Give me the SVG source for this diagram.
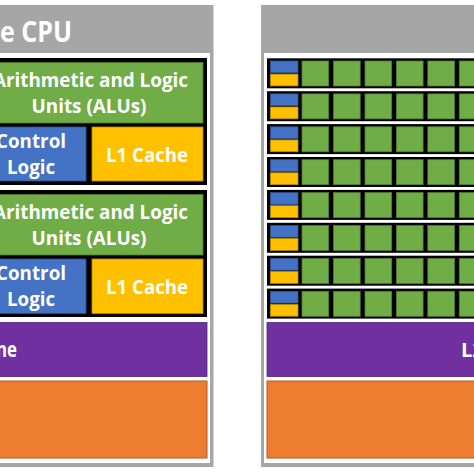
<svg xmlns="http://www.w3.org/2000/svg" xmlns:xlink="http://www.w3.org/1999/xlink" width="474" height="474" viewBox="0 0 474 474">
<style>
.frame{fill:#A6A6A6}
.inner{fill:#FFFFFF}
.core{fill:#000000}
.alu{fill:#70AD47;stroke:#507E32;stroke-width:0.8}
.ctl{fill:#4472C4;stroke:#2F528F;stroke-width:0.8}
.l1{fill:#FFC000;stroke:#BC8C00;stroke-width:0.8}
.l2{fill:#7030A0;stroke:#52237A;stroke-width:0.8}
.dram{fill:#ED7D31;stroke:#AE5A21;stroke-width:1}
.t{font-family:"Open Sans","Noto Sans",sans-serif;font-weight:bold;fill:#FFFFFF}
.lbl{font-size:20px}
.title{font-size:28px}
</style>
<defs>
<g id="gpurow">
<rect class="core" x="267" y="0" width="250" height="30"/>
<rect class="ctl" x="270.5" y="2.7" width="27.5" height="11.8"/>
<rect class="l1" x="270.5" y="15.8" width="27.5" height="11.8"/>
<rect class="alu" x="302" y="2.7" width="26.7" height="25"/>
<rect class="alu" x="333.5" y="2.7" width="26.7" height="25"/>
<rect class="alu" x="365" y="2.7" width="26.7" height="25"/>
<rect class="alu" x="396.4" y="2.7" width="26.7" height="25"/>
<rect class="alu" x="427.8" y="2.7" width="26.7" height="25"/>
<rect class="alu" x="459.3" y="2.7" width="26.7" height="25"/>
</g>
</defs>

<rect x="0" y="0" width="474" height="474" fill="#FFFFFF"/>

<g id="cpu">
<g id="cpu-frame">
<rect class="frame" x="-40" y="5" width="253.5" height="462"/>
<rect class="inner" x="-40" y="53" width="250" height="410"/>
<text class="t title" x="0" y="42" textLength="72" lengthAdjust="spacingAndGlyphs">e CPU</text>
</g>
<g id="cpu-core-1">
<rect class="core" x="-40" y="58" width="247" height="127"/>
<g id="cpu-core-1-alu">
<rect class="alu" x="-40" y="62.5" width="243" height="60.5"/>
<text class="t lbl" x="-7" y="87" textLength="195" lengthAdjust="spacingAndGlyphs">Arithmetic and Logic</text>
<text class="t lbl" x="31.5" y="113" textLength="115" lengthAdjust="spacingAndGlyphs">Units (ALUs)</text>
</g>
<g id="cpu-core-1-control">
<rect class="ctl" x="-40" y="127" width="126" height="54"/>
<text class="t lbl" x="-4" y="148" textLength="70" lengthAdjust="spacingAndGlyphs">Control</text>
<text class="t lbl" x="7" y="174" textLength="48" lengthAdjust="spacingAndGlyphs">Logic</text>
</g>
<g id="cpu-core-1-l1">
<rect class="l1" x="92" y="127" width="111" height="54"/>
<text class="t lbl" x="106" y="162" textLength="82" lengthAdjust="spacingAndGlyphs">L1 Cache</text>
</g>
</g>
<g id="cpu-core-2">
<rect class="core" x="-40" y="190" width="247" height="127"/>
<g id="cpu-core-2-alu">
<rect class="alu" x="-40" y="194.5" width="243" height="60.5"/>
<text class="t lbl" x="-7" y="219" textLength="195" lengthAdjust="spacingAndGlyphs">Arithmetic and Logic</text>
<text class="t lbl" x="31.5" y="245" textLength="115" lengthAdjust="spacingAndGlyphs">Units (ALUs)</text>
</g>
<g id="cpu-core-2-control">
<rect class="ctl" x="-40" y="259" width="126" height="54.5"/>
<text class="t lbl" x="-4" y="280" textLength="70" lengthAdjust="spacingAndGlyphs">Control</text>
<text class="t lbl" x="7" y="306" textLength="48" lengthAdjust="spacingAndGlyphs">Logic</text>
</g>
<g id="cpu-core-2-l1">
<rect class="l1" x="92" y="259" width="111" height="54.5"/>
<text class="t lbl" x="106" y="294" textLength="82" lengthAdjust="spacingAndGlyphs">L1 Cache</text>
</g>
</g>
<g id="cpu-cache">
<rect class="l2" x="-40" y="322.5" width="247" height="54"/>
<text class="t lbl" x="-4" y="357" textLength="21" lengthAdjust="spacingAndGlyphs" style="font-size:22px">ne</text>
</g>
<g id="cpu-dram">
<rect class="dram" x="-40" y="381" width="247" height="77"/>
</g>
</g>

<g id="gpu">
<g id="gpu-frame">
<rect class="frame" x="261" y="5" width="260" height="462"/>
<rect class="inner" x="264" y="53" width="260" height="410"/>
</g>
<g id="gpu-rows">
<use xlink:href="#gpurow" href="#gpurow" transform="translate(0,58.3)"/>
<use xlink:href="#gpurow" href="#gpurow" transform="translate(0,91.2)"/>
<use xlink:href="#gpurow" href="#gpurow" transform="translate(0,124.1)"/>
<use xlink:href="#gpurow" href="#gpurow" transform="translate(0,157)"/>
<use xlink:href="#gpurow" href="#gpurow" transform="translate(0,189.9)"/>
<use xlink:href="#gpurow" href="#gpurow" transform="translate(0,222.8)"/>
<use xlink:href="#gpurow" href="#gpurow" transform="translate(0,255.7)"/>
<use xlink:href="#gpurow" href="#gpurow" transform="translate(0,288.6)"/>
</g>
<g id="gpu-cache">
<rect class="l2" x="267" y="322.5" width="250" height="54"/>
<text class="t lbl" x="461" y="357">L2</text>
</g>
<g id="gpu-dram">
<rect class="dram" x="267" y="381" width="250" height="77"/>
</g>
</g>
<g id="connectors"/>
</svg>
